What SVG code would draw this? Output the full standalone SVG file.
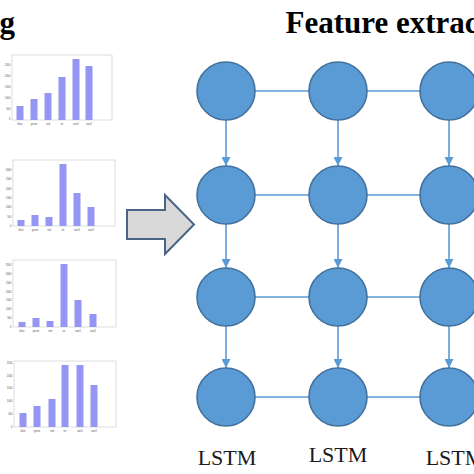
<svg xmlns="http://www.w3.org/2000/svg" width="474" height="474" viewBox="0 0 474 474">
<style>
.title{font-family:"Liberation Serif","Times New Roman",serif;font-weight:bold;font-size:31px;fill:#000}
.lbl{font-family:"Liberation Serif","Times New Roman",serif;font-size:22px;fill:#1a1a1a;text-anchor:middle}
.node{fill:#5b9bd5;stroke:#41719c;stroke-width:1.6}
.conn{stroke:#5b9bd5;stroke-width:1.6;fill:none}
.frame{fill:#fff;stroke:#cfcfcf;stroke-width:0.7}
.bar{fill:#9595f3}
.tx{font-family:"Liberation Sans",Arial,sans-serif;font-size:2.6px;fill:#555;text-anchor:middle}
.ty{font-family:"Liberation Sans",Arial,sans-serif;font-size:2.6px;fill:#555;text-anchor:end}
</style>
<defs>
<marker id="ah" viewBox="0 0 10 10" refX="10" refY="5" markerWidth="9" markerHeight="9" markerUnits="userSpaceOnUse" orient="auto">
<path d="M0,0 L10,5 L0,10 z" fill="#5b9bd5"/>
</marker>
</defs>
<rect width="474" height="474" fill="#fff"/>
<text class="title" x="15" y="33" text-anchor="end">g</text>
<text class="title" x="285.5" y="33">Feature extraction</text>

<g id="chart1">
<rect class="frame" x="12" y="55" width="100" height="65"/>
<rect class="bar" x="16.5" y="106" width="7" height="14"/>
<rect class="bar" x="30.5" y="99" width="7" height="21"/>
<rect class="bar" x="44.5" y="93" width="7" height="27"/>
<rect class="bar" x="58.5" y="77" width="7" height="43"/>
<rect class="bar" x="72.5" y="59" width="7" height="61"/>
<rect class="bar" x="85.5" y="66" width="7" height="54"/>
<text class="ty" x="10.5" y="120">0</text><text class="ty" x="10.5" y="110">500</text><text class="ty" x="10.5" y="99">1000</text><text class="ty" x="10.5" y="88">1500</text><text class="ty" x="10.5" y="77">2000</text><text class="ty" x="10.5" y="66">2500</text>
<text class="tx" x="20" y="125">blue</text><text class="tx" x="34" y="125">green</text><text class="tx" x="48" y="125">red</text><text class="tx" x="62" y="125">nir</text><text class="tx" x="76" y="125">swir1</text><text class="tx" x="89" y="125">swir2</text>
</g>

<g id="chart2">
<rect class="frame" x="13" y="160" width="102" height="66"/>
<rect class="bar" x="17.5" y="220" width="7" height="6"/>
<rect class="bar" x="31.5" y="215" width="7" height="11"/>
<rect class="bar" x="45.5" y="217" width="7" height="9"/>
<rect class="bar" x="59.5" y="164" width="7" height="62"/>
<rect class="bar" x="73.5" y="193" width="7" height="33"/>
<rect class="bar" x="87.5" y="207" width="7" height="19"/>
<text class="ty" x="11.5" y="227">0</text><text class="ty" x="11.5" y="218">500</text><text class="ty" x="11.5" y="208">1000</text><text class="ty" x="11.5" y="199">1500</text><text class="ty" x="11.5" y="190">2000</text><text class="ty" x="11.5" y="180">2500</text><text class="ty" x="11.5" y="171">3000</text>
<text class="tx" x="21" y="231">blue</text><text class="tx" x="35" y="231">green</text><text class="tx" x="49" y="231">red</text><text class="tx" x="63" y="231">nir</text><text class="tx" x="77" y="231">swir1</text><text class="tx" x="91" y="231">swir2</text>
</g>

<g id="chart3">
<rect class="frame" x="13" y="260" width="103" height="67"/>
<rect class="bar" x="18.5" y="322" width="7" height="5"/>
<rect class="bar" x="32.5" y="318" width="7" height="9"/>
<rect class="bar" x="46.5" y="321" width="7" height="6"/>
<rect class="bar" x="60.5" y="264" width="7" height="63"/>
<rect class="bar" x="74.5" y="300" width="7" height="27"/>
<rect class="bar" x="89.5" y="314" width="7" height="13"/>
<text class="ty" x="11.5" y="328">0</text><text class="ty" x="11.5" y="319">500</text><text class="ty" x="11.5" y="310">1000</text><text class="ty" x="11.5" y="301">1500</text><text class="ty" x="11.5" y="293">2000</text><text class="ty" x="11.5" y="284">2500</text><text class="ty" x="11.5" y="275">3000</text><text class="ty" x="11.5" y="266">3500</text>
<text class="tx" x="22" y="332">blue</text><text class="tx" x="36" y="332">green</text><text class="tx" x="50" y="332">red</text><text class="tx" x="64" y="332">nir</text><text class="tx" x="78" y="332">swir1</text><text class="tx" x="93" y="332">swir2</text>
</g>

<g id="chart4">
<rect class="frame" x="14" y="361" width="102" height="66"/>
<rect class="bar" x="19.5" y="413" width="7" height="14"/>
<rect class="bar" x="33.5" y="406" width="7" height="21"/>
<rect class="bar" x="48.5" y="399" width="7" height="28"/>
<rect class="bar" x="61.5" y="365" width="7" height="62"/>
<rect class="bar" x="76.5" y="365" width="7" height="62"/>
<rect class="bar" x="90.5" y="385" width="7" height="42"/>
<text class="ty" x="12.5" y="428">0</text><text class="ty" x="12.5" y="415">500</text><text class="ty" x="12.5" y="402">1000</text><text class="ty" x="12.5" y="389">1500</text><text class="ty" x="12.5" y="377">2000</text><text class="ty" x="12.5" y="364">2500</text>
<text class="tx" x="23" y="432">blue</text><text class="tx" x="37" y="432">green</text><text class="tx" x="52" y="432">red</text><text class="tx" x="65" y="432">nir</text><text class="tx" x="80" y="432">swir1</text><text class="tx" x="94" y="432">swir2</text>
</g>

<g id="bigarrow">
<path d="M127,210 L165,210 L165,195 L194,224.5 L165,254 L165,239 L127,239 Z" fill="#d9d9d9" stroke="#4a6485" stroke-width="2" stroke-linejoin="miter"/>
</g>

<g id="connectors">
<line class="conn" x1="255" y1="91" x2="309" y2="91"/><line class="conn" x1="367" y1="91" x2="420" y2="91"/>
<line class="conn" x1="255" y1="195" x2="309" y2="195"/><line class="conn" x1="367" y1="195" x2="420" y2="195"/>
<line class="conn" x1="255" y1="297" x2="309" y2="297"/><line class="conn" x1="367" y1="297" x2="420" y2="297"/>
<line class="conn" x1="255" y1="397" x2="309" y2="397"/><line class="conn" x1="367" y1="397" x2="420" y2="397"/>
<line class="conn" x1="226" y1="120" x2="226" y2="166" marker-end="url(#ah)"/>
<line class="conn" x1="226" y1="224" x2="226" y2="268" marker-end="url(#ah)"/>
<line class="conn" x1="226" y1="326" x2="226" y2="368" marker-end="url(#ah)"/>
<line class="conn" x1="338" y1="120" x2="338" y2="166" marker-end="url(#ah)"/>
<line class="conn" x1="338" y1="224" x2="338" y2="268" marker-end="url(#ah)"/>
<line class="conn" x1="338" y1="326" x2="338" y2="368" marker-end="url(#ah)"/>
<line class="conn" x1="449" y1="120" x2="449" y2="166" marker-end="url(#ah)"/>
<line class="conn" x1="449" y1="224" x2="449" y2="268" marker-end="url(#ah)"/>
<line class="conn" x1="449" y1="326" x2="449" y2="368" marker-end="url(#ah)"/>
</g>

<g id="n11"><circle class="node" cx="226" cy="91" r="29"/></g>
<g id="n12"><circle class="node" cx="338" cy="91" r="29"/></g>
<g id="n13"><circle class="node" cx="449" cy="91" r="29"/></g>
<g id="n21"><circle class="node" cx="226" cy="195" r="29"/></g>
<g id="n22"><circle class="node" cx="338" cy="195" r="29"/></g>
<g id="n23"><circle class="node" cx="449" cy="195" r="29"/></g>
<g id="n31"><circle class="node" cx="226" cy="297" r="29"/></g>
<g id="n32"><circle class="node" cx="338" cy="297" r="29"/></g>
<g id="n33"><circle class="node" cx="449" cy="297" r="29"/></g>
<g id="n41"><circle class="node" cx="226" cy="397" r="29"/></g>
<g id="n42"><circle class="node" cx="338" cy="397" r="29"/></g>
<g id="n43"><circle class="node" cx="449" cy="397" r="29"/></g>

<g id="labels">
<text class="lbl" x="227" y="465">LSTM</text>
<text class="lbl" x="338" y="462">LSTM</text>
<text class="lbl" x="455" y="465">LSTM</text>
</g>
</svg>
